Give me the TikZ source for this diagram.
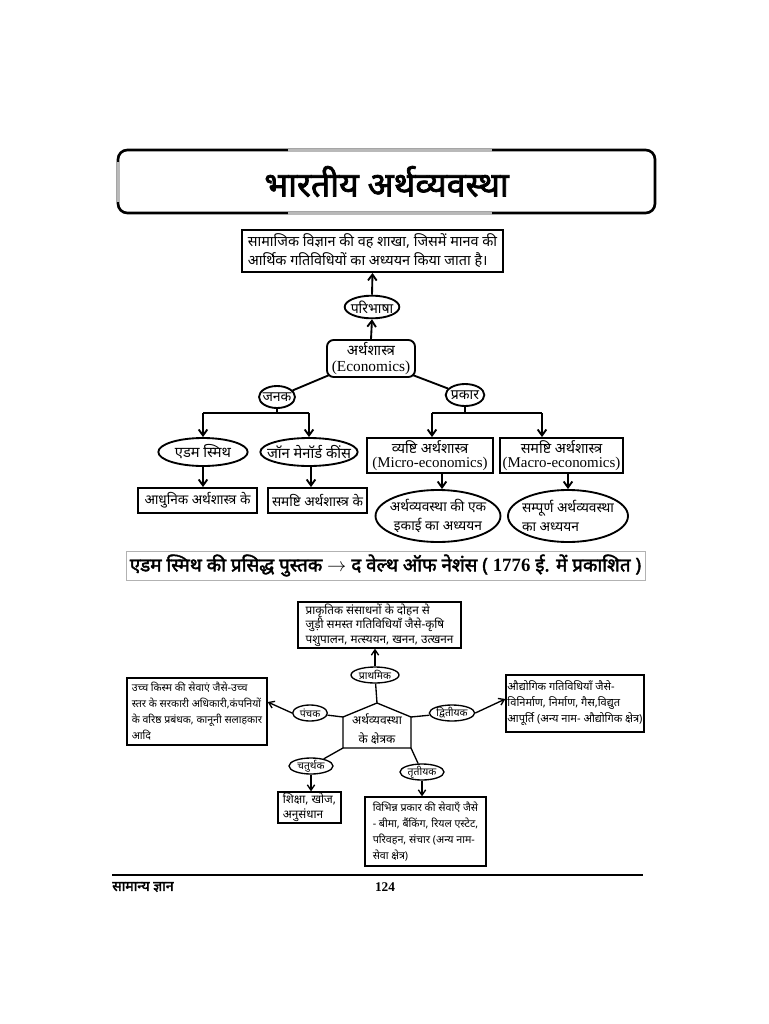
\documentclass[tikz,border=0pt]{standalone}
\usepackage{fontspec}
\setmainfont{Liberation Serif}
\newfontfamily\dev[Script=Devanagari]{Noto Sans}
\newfontfamily\devb[Script=Devanagari, FakeBold=2.2]{Noto Sans}
\usetikzlibrary{shapes.geometric,arrows.meta}
\begin{document}
\begin{tikzpicture}[x=0.75pt,y=-0.75pt,
  bx/.style={draw, line width=1.4pt, inner sep=0pt, align=left, font=\dev\fontsize{10.8}{14.3}\selectfont},
  sbx/.style={draw, line width=1pt, inner sep=0pt, align=left, font=\dev\fontsize{8.3}{12}\selectfont},
  ov/.style={ellipse, draw, line width=1.4pt, inner xsep=-3pt, inner ysep=-2pt, font=\dev\fontsize{10.5}{12}\selectfont},
  sov/.style={ellipse, draw, line width=1pt, inner xsep=-3pt, inner ysep=-2pt, font=\dev\fontsize{7.8}{9}\selectfont},
  arr/.style={-{Straight Barb[length=4.5pt,width=6.5pt]}, line width=1.4pt},
  sarr/.style={-{Straight Barb[length=4pt,width=5.5pt]}, line width=1pt},
  ln/.style={line width=1.4pt},
  sln/.style={line width=1pt}]
\useasboundingbox (0,0) rectangle (768,1024);
\fill[white] (0,0) rectangle (768,1024);

% title
\node[draw, line width=2pt, rounded corners=7pt, minimum width=402.75pt, minimum height=47.25pt, inner sep=0pt,
      font=\devb\fontsize{25.5}{28}\selectfont] (title) at (386.5,181.5) {भारतीय अर्थव्यवस्था};
\fill[gray!55] (288,148.5) rectangle (492,151.5);
\fill[gray!55] (288,211.5) rectangle (492,214.5);
\fill[gray!55] (117,162) rectangle (120,202);

% upper tree
\node[bx, minimum width=195.75pt, minimum height=31.5pt] (def) at (372.5,251) {सामाजिक विज्ञान की वह शाखा, जिसमें मानव की\\आर्थिक गतिविधियों का अध्ययन किया जाता है।};
\node[ov, minimum width=41pt, minimum height=17pt] (pari) at (372,307) {परिभाषा};
\node[draw, line width=1.4pt, rounded corners=5pt, inner sep=0pt, align=center,
      minimum width=66pt, minimum height=27.75pt, font=\dev\fontsize{11}{11}\selectfont] (arth) at (371,358.5) {अर्थशास्त्र\\[1pt]{\rmfamily\fontsize{11.5}{12}\selectfont (Economics)}};
\draw[arr] (arth.north) -- (pari.south);
\draw[arr] (pari.north) -- (def.south);

\node[ov, minimum width=27pt, minimum height=16.5pt] (janak) at (277,397) {जनक};
\node[ov, minimum width=29pt, minimum height=16.5pt] (prakar) at (465,395) {प्रकार};
\draw[ln] ([xshift=2pt,yshift=2pt]arth.south west) -- (janak);
\draw[ln] ([xshift=-2pt,yshift=2pt]arth.south east) -- (prakar);

\node[ov, minimum width=67pt, minimum height=21pt, font=\dev\fontsize{11}{13}\selectfont] (adam) at (203,452) {एडम स्मिथ};
\node[ov, minimum width=73pt, minimum height=21pt, inner xsep=-9pt, font=\dev\fontsize{11}{13}\selectfont] (keynes) at (309,452) {जॉन मेनॉर्ड कींस};
\node[bx, minimum width=89.25pt, minimum height=18.75pt, font=\dev\fontsize{10.2}{12}\selectfont] (modern) at (197.5,500.5) {आधुनिक अर्थशास्त्र के};
\node[bx, minimum width=74.25pt, minimum height=18.75pt, font=\dev\fontsize{10.2}{12}\selectfont] (samk) at (317.5,500.5) {समष्टि अर्थशास्त्र के};

\coordinate (jb) at (277,413);
\draw[ln] (janak.south) -- (jb);
\draw[ln] (jb -| adam.north) -- (jb -| keynes.north);
\draw[arr] (jb -| adam.north) -- (adam.north);
\draw[arr] (jb -| keynes.north) -- (keynes.north);
\draw[arr] (adam.south) -- (adam.south |- modern.north);
\draw[arr] ([xshift=1.5pt]keynes.south) -- ([xshift=1.5pt]keynes.south |- samk.north);

\node[bx, align=center, minimum width=94.5pt, minimum height=26.25pt, font=\dev\fontsize{10.8}{11}\selectfont] (micro) at (430,455.5) {व्यष्टि अर्थशास्त्र\\[0pt]{\rmfamily\fontsize{11.2}{12}\selectfont (Micro-economics)}};
\node[bx, align=center, minimum width=92.25pt, minimum height=26.25pt, font=\dev\fontsize{10.8}{11}\selectfont] (macro) at (561.5,455.5) {समष्टि अर्थशास्त्र\\[0pt]{\rmfamily\fontsize{11.2}{12}\selectfont (Macro-economics)}};
\node[ov, minimum width=90pt, minimum height=39pt, align=center, font=\dev\fontsize{10.3}{14.5}\selectfont] (unit) at (438,516) {अर्थव्यवस्था की एक\\इकाई का अध्ययन};
\node[ov, minimum width=90pt, minimum height=39pt, align=left, font=\dev\fontsize{10.3}{14.5}\selectfont] (whole) at (568,516) {सम्पूर्ण अर्थव्यवस्था\\का अध्ययन};

\coordinate (pb) at (465,413);
\coordinate (pl) at (432,413);
\coordinate (pr) at (542,413);
\draw[ln] (prakar.south) -- (pb);
\draw[ln] (pl) -- (pr);
\draw[arr] (pl) -- (pl |- micro.north);
\draw[arr] (pr) -- (pr |- macro.north);
\draw[arr] ([xshift=3pt]unit.north |- micro.south) -- ([xshift=3pt]unit.north);
\draw[arr] (whole.north |- macro.south) -- (whole.north);

% book line
\node[draw=gray!60, line width=0.5pt, inner sep=0pt, minimum width=389.25pt, minimum height=21.75pt,
      font=\devb\fontsize{14.1}{15}\selectfont] (book) at (385.5,565.5)
  {एडम स्मिथ की प्रसिद्ध पुस्तक $\rightarrow$ द वेल्थ ऑफ नेशंस ( {\rmfamily\bfseries 1776} ई. में प्रकाशित )};

% sectors
\coordinate (apex) at (377,703);
\coordinate (ls) at (343,717);
\coordinate (rs) at (411,717);
\coordinate (bl) at (343,748);
\coordinate (br) at (411,748);
\draw[sln] (apex) -- (rs) -- (br) -- (bl) -- (ls) -- cycle;
\node[align=center, inner sep=0pt, font=\dev\fontsize{9}{14}\selectfont] (sector) at (377,729) {अर्थव्यवस्था\\के क्षेत्रक};

\node[sov, minimum width=36pt, minimum height=12pt] (prath) at (375,675) {प्राथमिक};
\node[sov, minimum width=26pt, minimum height=12pt] (panch) at (310,713) {पंचक};
\node[sov, minimum width=34pt, minimum height=12pt] (dvit) at (452,713) {द्वितीयक};
\node[sov, minimum width=33pt, minimum height=12pt] (chatur) at (311,766) {चतुर्थक};
\node[sov, minimum width=33pt, minimum height=12pt] (trit) at (422,772) {तृतीयक};

\node[sbx, minimum width=122.25pt, minimum height=34.5pt, font=\dev\fontsize{8.8}{11}\selectfont] (pbox) at (379.5,625) {प्राकृतिक संसाधनों के दोहन से\\जुड़ी समस्त गतिविधियाँ जैसे-कृषि\\पशुपालन, मत्स्ययन, खनन, उत्खनन};
\node[sbx, minimum width=105pt, minimum height=50.25pt, font=\dev\fontsize{7.9}{12}\selectfont] (lbox) at (197,711.5) {उच्च किस्म की सेवाएं जैसे-उच्च\\स्तर के सरकारी अधिकारी,कंपनियों\\के वरिष्ठ प्रबंधक, कानूनी सलाहकार\\आदि};
\node[sbx, minimum width=103.5pt, minimum height=42.75pt] (rbox) at (575,703.5) {औद्योगिक गतिविधियाँ जैसे-\\विनिर्माण, निर्माण, गैस,विद्युत\\आपूर्ति (अन्य नाम- औद्योगिक क्षेत्र)};
\node[sbx, minimum width=47.25pt, minimum height=23.25pt, font=\dev\fontsize{8.8}{11.5}\selectfont] (cbox) at (309.5,807.5) {शिक्षा, खोज,\\अनुसंधान};
\node[sbx, minimum width=90.75pt, minimum height=51.75pt, font=\dev\fontsize{8}{12}\selectfont] (tbox) at (425.5,831.5) {विभिन्न प्रकार की सेवाएँ जैसे\\- बीमा, बैंकिंग, रियल एस्टेट,\\परिवहन, संचार (अन्य नाम-\\सेवा क्षेत्र)};

\draw[sln] (apex) -- (prath);
\draw[sln] (ls) -- (panch);
\draw[sln] (rs) -- (dvit);
\draw[sln] (bl) -- (chatur);
\draw[sln] (br) -- (trit);
\draw[sarr] (prath.north) -- (prath.north |- pbox.south);
\draw[sarr] (panch.west) -- (lbox.east |- 0,702);
\draw[sarr] (dvit.east) -- (rbox.west |- 0,699);
\draw[sarr] (chatur.south) -- (chatur.south |- cbox.north);
\draw[sarr] (trit.south) -- (trit.south |- tbox.north);

% footer
\coordinate (fl) at (112,875);
\coordinate (fr) at (643,875);
\draw[line width=2.2pt] (fl) -- (fr);
\node[anchor=west, inner sep=0pt, font=\devb\fontsize{10.5}{12}\selectfont] (gk) at (112,887) {सामान्य ज्ञान};
\node[inner sep=0pt, font=\rmfamily\bfseries\fontsize{10}{12}\selectfont] (pg) at (385,887) {124};
\end{tikzpicture}
\end{document}
